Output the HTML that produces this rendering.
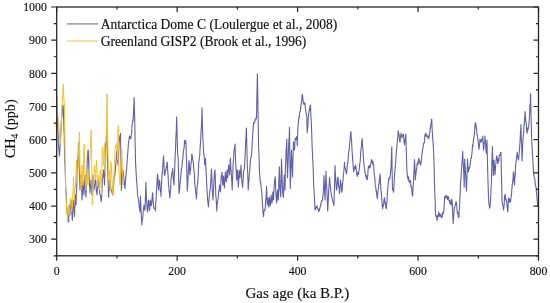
<!DOCTYPE html>
<html><head><meta charset="utf-8"><style>html,body{margin:0;padding:0;background:#fff;overflow:hidden}svg{display:block}</style></head>
<body><svg width="550" height="303" viewBox="0 0 550 303">
<rect width="550" height="303" fill="#fff"/>
<g fill="none" stroke-linejoin="round">
<polyline points="57.3,108.0 57.8,130.0 58.1,134.2 58.4,143.7 58.7,148.0 59.2,153.3 59.6,156.0 60.0,146.8 60.5,140.0 60.8,133.3 61.2,126.4 61.5,120.0 61.8,116.1 62.2,112.1 62.5,106.0 62.9,105.0 63.3,108.0 63.8,125.0 64.2,135.1 64.5,150.0 64.8,161.7 65.2,169.7 65.5,180.0 65.8,189.6 66.2,194.2 66.5,205.0 66.8,208.1 67.2,212.8 67.5,215.0 67.9,216.0 68.2,221.9 68.6,222.0 68.9,215.5 69.3,205.0 69.7,207.7 70.0,215.0 70.3,207.6 70.7,205.2 71.0,200.0 71.3,207.3 71.7,209.7 72.0,214.0 72.3,220.5 72.7,209.9 73.0,200.0 73.3,200.9 73.6,205.2 73.9,209.5 74.2,213.1 74.5,216.4 74.9,204.4 75.3,195.0 75.7,198.7 76.0,205.0 76.3,195.3 76.7,188.1 77.0,180.0 77.3,171.5 77.6,162.8 78.0,159.5 78.3,150.7 78.6,143.0 78.9,154.7 79.2,165.0 79.6,175.9 80.0,190.0 80.3,187.5 80.7,181.8 81.0,175.0 81.3,181.4 81.7,190.8 82.0,200.0 82.3,194.4 82.7,187.7 83.0,180.0 83.3,187.2 83.7,189.6 84.0,195.0 84.3,190.0 84.7,182.5 85.0,175.0 85.3,181.4 85.7,190.1 86.0,197.0 86.3,189.7 86.7,180.2 87.0,169.3 87.3,160.0 87.6,157.1 87.9,151.0 88.2,150.0 88.6,161.2 89.0,175.0 89.3,182.5 89.7,186.6 90.0,193.0 90.3,187.0 90.7,184.6 91.0,180.0 91.3,186.0 91.7,190.9 92.0,195.0 92.3,187.7 92.7,181.4 93.0,175.0 93.3,180.0 93.7,186.4 94.0,190.0 94.3,188.1 94.6,185.5 94.9,183.9 95.2,179.6 95.5,180.0 95.8,180.7 96.1,187.0 96.4,191.4 96.7,192.5 97.0,195.0 97.3,191.5 97.6,187.4 98.0,186.0 98.3,185.4 98.6,180.0 98.9,185.1 99.3,187.7 99.7,193.1 100.0,195.0 100.3,195.0 100.7,197.8 101.1,201.4 101.4,200.5 101.8,194.1 102.1,186.6 102.5,180.0 102.8,175.5 103.2,173.6 103.5,170.0 103.8,177.3 104.2,177.5 104.5,185.0 104.8,174.8 105.2,163.3 105.5,150.0 105.8,146.6 106.2,140.5 106.5,135.5 106.8,128.6 107.2,144.4 107.5,160.0 107.9,172.7 108.2,184.5 108.6,197.3 108.9,190.8 109.3,190.5 109.7,184.7 110.0,180.0 110.3,181.8 110.7,186.7 111.0,190.0 111.3,190.9 111.7,191.3 112.0,192.2 112.4,194.2 112.7,195.0 113.0,191.9 113.3,188.1 113.7,183.5 114.0,180.0 114.3,176.0 114.7,175.3 115.0,175.0 115.4,168.4 115.7,165.4 116.1,161.8 116.4,156.5 116.8,150.0 117.1,155.2 117.4,159.1 117.7,160.0 118.0,165.0 118.3,160.0 118.7,152.5 119.0,145.0 119.3,140.6 119.6,137.9 119.9,135.5 120.2,136.8 120.5,133.2 120.8,151.0 121.1,169.4 121.4,190.5 121.7,186.0 122.1,179.5 122.4,173.0 122.7,170.0 123.0,170.8 123.3,175.1 123.7,175.8 124.0,180.0 124.3,181.7 124.7,186.8 125.0,188.6 125.3,183.8 125.7,178.6 126.0,175.0 126.4,170.9 126.8,167.0 127.1,160.4 127.4,157.9 127.7,153.9 128.0,150.0 128.3,145.1 128.7,141.4 129.0,140.0 129.5,136.0 129.8,138.6 130.2,137.4 130.6,136.5 130.9,138.6 131.2,135.5 131.6,132.9 132.0,125.3 132.3,124.0 132.8,119.8 133.2,120.5 133.5,111.1 133.8,106.3 134.1,97.5 134.6,115.0 134.9,128.3 135.2,146.0 135.5,160.0 135.8,167.6 136.2,173.6 136.5,180.0 136.9,183.6 137.3,190.0 137.6,195.4 138.0,197.5 138.3,199.1 138.7,200.6 139.0,205.0 139.3,208.1 139.7,209.1 140.0,212.0 140.5,196.0 141.0,210.0 141.4,217.9 141.8,225.0 142.2,220.8 142.6,219.0 143.0,215.0 143.3,209.5 143.7,207.3 144.0,205.0 144.3,209.0 144.7,210.2 145.0,210.0 145.3,199.8 145.6,193.3 145.9,182.3 146.5,200.0 146.8,203.1 147.2,210.2 147.5,212.0 147.8,209.2 148.2,203.6 148.5,200.0 148.8,202.3 149.2,204.5 149.5,210.5 149.8,208.9 150.2,201.2 150.5,200.0 150.8,203.3 151.2,205.6 151.5,205.0 151.9,201.3 152.3,195.2 152.7,192.7 153.1,200.7 153.5,205.0 153.8,208.4 154.2,208.0 154.5,208.0 154.8,208.4 155.2,209.2 155.5,211.0 155.8,202.5 156.2,197.9 156.5,190.0 156.9,184.3 157.2,177.8 157.6,174.0 157.9,177.4 158.2,185.5 158.5,190.0 158.8,185.6 159.2,183.3 159.5,180.0 159.8,182.4 160.1,188.4 160.4,191.8 160.7,190.7 161.0,196.4 161.3,187.8 161.7,181.3 162.0,175.0 162.3,173.6 162.6,168.8 163.0,162.7 163.3,158.3 163.6,155.9 163.9,163.1 164.2,170.3 164.5,175.0 164.8,175.5 165.2,170.9 165.5,170.0 165.8,170.6 166.1,168.4 166.4,166.1 166.7,167.3 167.0,162.3 167.3,162.3 167.7,171.0 168.1,175.4 168.5,185.0 168.8,185.9 169.1,192.3 169.4,191.4 169.7,196.7 170.0,198.0 170.3,192.5 170.7,187.7 171.0,180.0 171.3,177.1 171.7,174.6 172.0,172.1 172.4,172.7 172.7,168.6 173.0,173.2 173.3,179.1 173.7,182.8 174.0,185.0 174.3,176.2 174.6,171.3 174.9,162.0 175.2,154.7 175.5,150.0 175.9,136.8 176.3,129.7 176.7,116.8 177.1,134.8 177.5,150.0 177.8,155.9 178.2,158.6 178.6,175.3 179.0,193.6 179.3,191.1 179.7,188.8 180.0,183.7 180.3,181.6 180.7,176.7 181.0,175.0 181.3,169.9 181.6,167.8 181.9,168.0 182.2,163.3 182.5,160.0 182.8,159.2 183.2,153.9 183.5,150.0 183.8,149.6 184.2,146.9 184.5,142.3 184.8,140.0 185.1,143.4 185.4,140.7 185.7,140.9 186.0,143.0 186.3,156.9 186.7,164.7 187.0,177.7 187.3,191.0 187.6,187.3 188.0,178.4 188.3,170.8 188.7,164.9 189.0,160.5 189.3,164.0 189.7,171.4 190.0,175.0 190.3,169.5 190.6,170.1 190.9,163.9 191.2,163.4 191.5,159.5 191.8,154.0 192.1,155.2 192.5,157.2 192.8,160.5 193.2,160.8 193.5,165.0 193.8,169.8 194.1,170.7 194.4,174.6 194.7,183.4 195.0,185.0 195.3,187.5 195.7,192.5 196.1,195.2 196.4,199.0 196.8,192.9 197.1,186.5 197.4,185.6 197.8,180.7 198.2,175.5 198.5,168.0 198.8,162.5 199.1,159.4 199.4,157.8 199.7,156.0 200.0,150.0 200.3,145.2 200.6,140.9 200.9,135.8 201.2,128.8 201.5,125.0 202.0,107.7 202.3,121.6 202.7,135.0 203.0,140.0 203.3,145.7 203.6,153.0 203.9,153.9 204.3,157.9 204.7,164.4 205.0,165.0 205.5,158.6 205.8,165.5 206.2,173.6 206.5,180.0 206.9,188.2 207.3,195.0 207.7,201.2 208.0,202.5 208.4,207.0 208.8,202.0 209.1,198.1 209.5,195.0 209.8,190.8 210.2,190.1 210.5,185.0 210.8,181.6 211.2,173.3 211.5,169.0 211.9,178.7 212.3,190.0 212.7,195.2 213.0,200.0 213.3,193.7 213.7,187.1 214.0,180.0 214.3,175.4 214.7,170.9 215.0,170.0 215.4,181.2 215.8,195.0 216.1,198.3 216.5,206.1 216.8,211.3 217.1,205.4 217.5,201.6 217.8,200.0 218.2,197.9 218.5,194.5 218.8,190.3 219.2,189.6 219.5,185.0 219.9,188.5 220.3,192.0 220.7,187.8 221.0,180.0 221.3,175.6 221.7,174.7 222.0,172.0 222.4,180.0 222.8,185.0 223.2,178.4 223.6,176.0 224.0,184.2 224.4,188.0 224.7,181.0 225.0,178.7 225.3,172.0 225.8,179.4 226.2,182.0 226.6,177.6 227.0,170.0 227.3,173.1 227.7,178.0 228.0,171.7 228.3,169.4 228.6,165.0 228.9,170.4 229.2,170.6 229.5,175.0 229.8,171.3 230.1,161.9 230.4,158.0 230.8,167.1 231.2,172.0 231.5,175.7 231.9,183.1 232.2,190.0 232.6,179.5 233.0,165.0 233.3,161.5 233.7,157.0 234.0,150.0 234.3,149.7 234.7,147.2 235.0,144.0 235.4,155.4 235.8,165.0 236.2,170.9 236.6,180.0 236.9,176.3 237.2,171.6 237.5,170.0 237.9,179.6 238.3,187.0 238.8,179.3 239.2,170.0 239.6,172.8 240.0,178.0 240.3,171.5 240.7,171.7 241.0,165.0 241.4,174.0 241.8,180.0 242.2,184.0 242.6,187.5 242.9,182.5 243.2,178.9 243.5,172.0 243.8,170.6 244.2,169.2 244.5,168.6 244.8,161.6 245.1,155.0 245.4,150.0 245.7,140.3 246.1,136.1 246.4,128.0 246.7,139.9 247.0,153.0 247.3,165.0 247.8,175.3 248.2,190.0 248.6,184.3 249.0,180.0 249.4,173.2 249.8,170.0 250.2,163.1 250.6,160.0 251.0,156.8 251.4,156.0 251.8,151.8 252.1,143.9 252.5,138.1 252.8,133.4 253.2,127.0 253.5,124.5 253.8,122.2 254.1,123.6 254.4,122.3 254.7,121.9 255.0,120.0 255.3,119.3 255.6,120.1 255.9,120.0 256.2,117.1 256.5,118.0 256.9,95.9 257.4,73.8 257.7,91.8 258.0,110.0 258.3,127.1 258.6,147.0 259.1,159.1 259.5,172.0 259.8,175.3 260.1,180.0 260.4,183.1 260.8,182.9 261.1,187.7 261.4,190.0 261.8,192.7 262.1,197.9 262.5,205.0 262.8,208.9 263.2,214.6 263.5,216.6 263.9,211.6 264.3,210.0 264.6,210.3 265.0,209.9 265.3,207.0 265.6,200.9 266.0,197.7 266.3,193.3 266.6,186.4 267.2,205.0 267.6,200.9 268.0,198.0 268.4,203.5 268.7,207.0 269.1,203.2 269.5,197.0 269.9,202.0 270.3,206.0 270.8,202.3 271.2,195.0 271.6,201.0 272.0,203.0 272.4,199.8 272.8,192.0 273.1,196.4 273.5,200.0 273.9,190.9 274.3,185.0 274.6,181.0 275.0,178.1 275.3,176.8 275.6,186.2 276.0,195.0 276.4,200.3 276.8,203.0 277.1,194.3 277.5,190.0 277.9,195.9 278.3,200.0 278.7,190.0 279.0,177.1 279.4,166.8 279.7,178.5 280.0,190.0 280.4,191.8 280.8,197.0 281.1,179.1 281.5,159.0 281.9,169.7 282.3,185.0 282.6,191.6 283.0,195.0 283.3,197.7 283.6,190.8 284.0,181.4 284.3,175.0 284.6,184.6 285.0,190.0 285.5,165.0 285.8,160.8 286.1,150.2 286.5,146.9 286.8,139.0 287.1,160.1 287.5,177.7 287.8,169.3 288.2,160.2 288.5,150.0 288.8,142.2 289.2,137.0 289.5,127.3 289.9,160.3 290.3,188.6 290.7,175.1 291.0,164.4 291.4,150.0 291.8,158.7 292.1,166.3 292.5,177.0 292.8,164.4 293.2,151.7 293.5,141.8 293.8,146.6 294.2,149.6 294.5,150.0 295.0,141.0 295.3,138.3 295.7,139.8 296.0,138.5 296.4,137.1 296.8,136.6 297.3,145.7 297.7,132.0 298.0,126.1 298.3,123.0 298.6,120.0 298.9,117.1 299.2,117.9 299.6,112.5 299.9,111.8 300.2,111.4 300.5,110.0 300.8,105.0 301.1,105.4 301.4,102.7 301.7,101.3 302.0,95.5 302.3,94.4 302.7,96.5 303.1,101.0 303.5,104.0 303.8,102.8 304.1,104.3 304.4,102.5 304.7,104.6 305.0,103.6 305.3,107.3 305.6,109.6 305.9,112.7 306.2,112.8 306.5,114.7 306.8,117.0 307.2,132.7 307.5,130.1 307.9,125.2 308.2,119.8 308.5,115.0 308.8,112.8 309.2,110.7 309.5,108.2 309.8,110.1 310.2,105.0 310.5,105.3 310.9,115.7 311.4,123.6 311.7,132.6 312.0,143.5 312.3,150.0 312.8,160.8 313.2,169.0 313.6,181.9 314.0,190.0 314.3,194.8 314.7,203.3 315.0,210.0 315.3,209.8 315.6,207.9 315.9,208.2 316.2,206.9 316.5,207.0 316.8,207.7 317.1,205.6 317.4,208.4 317.7,209.0 318.0,208.9 318.3,209.9 318.6,211.0 318.9,211.6 319.3,210.2 319.6,208.4 320.0,208.3 320.3,206.1 320.7,204.4 321.0,205.0 321.3,200.9 321.6,200.7 321.9,200.7 322.3,200.5 322.6,198.6 322.9,195.5 323.2,193.8 323.6,187.1 324.0,175.6 324.3,183.5 324.7,193.5 325.0,200.0 325.3,189.9 325.7,181.9 326.0,171.0 326.3,181.4 326.7,186.0 327.0,193.4 327.4,203.6 327.7,211.0 328.0,205.6 328.3,199.1 328.6,191.8 328.9,188.1 329.2,182.7 329.5,177.5 329.8,179.9 330.2,185.1 330.5,186.7 330.8,190.3 331.2,194.1 331.5,195.0 331.8,197.6 332.1,197.6 332.4,200.2 332.8,201.0 333.1,202.4 333.4,203.6 333.7,203.8 334.0,205.6 334.3,192.9 334.7,179.5 335.0,165.5 335.3,172.6 335.6,176.7 335.9,181.9 336.2,186.4 336.5,190.0 336.8,189.0 337.1,185.3 337.4,181.4 337.7,178.4 338.0,177.0 338.3,181.4 338.6,185.6 338.9,187.3 339.2,188.7 339.5,193.8 339.8,190.9 340.2,184.5 340.5,180.0 340.8,182.9 341.1,183.9 341.5,189.3 341.8,192.3 342.1,190.5 342.4,185.8 342.7,182.4 343.0,180.9 343.3,174.6 343.6,174.0 344.1,168.2 344.5,162.3 344.8,166.8 345.2,167.7 345.5,169.0 345.9,171.0 346.4,174.0 346.7,172.4 347.0,169.4 347.3,164.8 347.6,162.3 347.9,163.1 348.2,158.6 348.5,154.0 348.9,149.7 349.2,150.1 349.5,145.0 349.9,141.7 350.2,137.5 350.5,134.9 350.9,131.4 351.2,137.5 351.5,139.5 351.8,146.0 352.1,151.1 352.4,155.7 352.7,160.6 353.0,162.2 353.3,168.2 353.6,172.0 353.9,169.5 354.2,170.0 354.6,166.9 354.9,168.8 355.2,168.0 355.5,165.0 355.8,166.1 356.1,167.6 356.4,173.3 356.7,174.0 357.0,175.0 357.4,176.4 357.8,172.0 358.2,174.0 358.5,174.5 358.9,171.6 359.2,168.6 359.5,168.0 359.8,164.0 360.1,161.9 360.4,158.3 360.7,151.6 361.0,149.5 361.4,146.5 361.8,140.6 362.2,138.6 362.6,146.4 362.9,149.3 363.3,155.0 363.7,161.7 364.1,165.5 364.5,169.0 364.8,171.9 365.2,172.5 365.5,176.0 365.8,176.7 366.1,175.4 366.4,175.9 366.7,179.4 367.0,178.2 367.3,179.5 367.7,176.3 368.1,169.2 368.5,166.0 368.8,167.5 369.1,167.9 369.4,166.2 369.7,165.6 370.0,168.0 370.3,166.2 370.6,165.5 370.9,162.2 371.2,161.4 371.5,159.5 371.8,160.5 372.1,161.7 372.4,163.9 372.7,161.3 373.0,161.2 373.3,165.3 373.6,165.0 373.9,170.2 374.2,174.6 374.6,176.5 374.9,178.7 375.2,184.9 375.5,186.8 375.8,186.9 376.1,191.7 376.4,190.7 376.7,194.2 377.0,196.6 377.3,198.6 377.7,194.5 378.1,189.9 378.5,188.0 378.8,183.9 379.1,184.0 379.4,179.4 379.7,177.2 380.0,174.0 380.3,177.9 380.7,185.7 381.0,190.0 381.3,192.9 381.7,197.9 382.0,203.2 382.4,207.4 382.7,208.6 383.0,204.5 383.3,206.5 383.6,204.9 383.9,200.4 384.2,198.9 384.5,197.7 384.8,199.9 385.1,203.4 385.4,202.6 385.8,206.9 386.1,208.1 386.4,208.6 386.7,202.6 387.0,202.2 387.3,193.5 387.6,189.9 387.9,188.3 388.2,183.2 388.5,179.8 388.8,180.2 389.1,177.7 389.4,178.2 389.7,178.9 390.0,176.0 390.3,175.7 390.7,169.0 391.0,169.0 391.4,155.7 391.8,146.8 392.1,170.1 392.5,190.0 392.9,188.5 393.2,190.4 393.6,192.3 394.0,184.8 394.3,179.1 394.6,173.2 395.0,170.0 395.4,166.0 395.7,161.9 396.0,157.0 396.4,151.4 396.7,149.6 397.0,145.2 397.3,140.4 397.6,138.1 397.9,136.3 398.2,130.5 398.5,133.2 398.8,133.1 399.1,134.2 399.4,140.5 399.7,140.8 400.0,142.3 400.3,138.4 400.7,136.6 401.0,133.0 401.3,135.0 401.7,136.4 402.0,138.0 402.3,135.2 402.6,136.1 403.0,135.8 403.3,134.1 403.6,135.0 404.1,141.9 404.5,145.0 404.8,141.9 405.1,140.3 405.5,137.8 405.8,134.0 406.2,146.9 406.5,158.4 406.9,169.0 407.3,176.0 407.6,177.9 408.0,176.1 408.3,180.4 408.6,177.0 409.0,181.5 409.3,181.8 409.7,182.5 410.0,181.4 410.3,180.4 410.6,181.8 410.9,186.6 411.2,186.0 411.5,186.8 411.8,188.6 412.2,194.7 412.7,196.0 413.0,187.3 413.4,183.4 413.7,176.6 414.0,170.5 414.5,159.5 414.9,167.9 415.3,180.0 415.7,175.5 416.1,173.0 416.5,168.0 416.8,168.8 417.1,163.5 417.4,164.9 417.8,161.7 418.1,164.2 418.4,159.6 418.7,158.2 419.0,159.5 419.3,160.0 419.6,162.9 419.9,161.9 420.2,162.1 420.5,165.0 420.8,164.3 421.1,162.1 421.4,160.1 421.8,155.2 422.1,153.6 422.4,150.4 422.7,149.5 423.0,148.0 423.3,145.0 423.6,143.3 423.9,143.7 424.3,142.7 424.6,139.1 424.9,134.8 425.2,135.8 425.5,133.2 425.8,133.3 426.1,136.4 426.4,135.4 426.7,136.3 427.0,135.0 427.3,136.5 427.7,136.1 428.0,138.3 428.3,138.5 428.7,136.2 429.0,137.7 429.3,134.0 429.6,133.2 429.9,132.0 430.2,127.9 430.5,128.0 430.8,125.1 431.1,124.1 431.5,119.3 431.8,119.5 432.1,128.8 432.5,135.0 432.9,141.2 433.2,145.0 433.6,151.4 434.1,166.2 434.5,183.0 434.8,192.6 435.2,202.8 435.5,214.0 435.8,216.2 436.1,215.8 436.4,216.9 436.7,215.9 437.0,220.7 437.3,219.5 437.7,216.8 438.1,215.0 438.5,214.0 438.8,211.8 439.1,216.4 439.4,213.9 439.8,216.1 440.1,216.1 440.4,216.3 440.7,214.0 441.0,216.1 441.4,217.1 441.7,217.6 442.0,216.0 442.3,216.7 442.6,212.6 443.0,213.7 443.3,213.2 443.6,212.0 443.9,209.4 444.3,203.2 444.6,196.7 444.9,197.5 445.2,197.6 445.6,195.5 445.9,198.2 446.2,196.6 446.5,195.7 446.8,195.7 447.1,196.5 447.4,199.5 447.8,197.8 448.1,196.5 448.4,198.6 448.7,197.5 449.0,200.8 449.4,200.8 449.7,203.2 450.0,200.2 450.3,202.4 450.6,203.3 451.0,205.0 451.3,204.5 451.7,199.4 452.0,200.0 452.4,205.8 452.8,215.8 453.2,223.4 453.6,216.5 454.0,212.0 454.3,208.1 454.7,206.9 455.0,206.2 455.3,205.3 455.7,203.2 456.0,201.5 456.3,202.2 456.7,205.0 457.0,210.0 457.3,213.0 457.6,213.3 457.9,212.2 458.3,216.9 458.6,214.0 458.9,217.7 459.2,210.7 459.6,206.7 459.9,198.6 460.2,193.3 460.5,184.8 460.8,179.5 461.1,176.6 461.5,170.3 461.8,165.0 462.2,160.0 462.7,151.3 463.0,160.2 463.4,164.7 463.7,172.0 464.2,187.0 464.6,159.0 465.1,166.4 465.5,172.0 465.8,178.6 466.2,186.9 466.5,191.0 466.8,181.8 467.2,170.8 467.5,159.0 467.8,164.9 468.2,170.2 468.5,172.0 468.8,169.2 469.1,167.4 469.4,168.6 469.8,167.2 470.1,164.4 470.4,162.8 470.7,160.5 471.0,157.9 471.4,158.0 471.7,155.3 472.0,152.1 472.3,149.4 472.6,144.9 472.9,146.7 473.2,142.5 473.6,138.9 473.9,137.2 474.2,136.0 474.5,133.6 474.9,126.8 475.2,124.1 475.5,122.6 475.8,123.4 476.2,128.1 476.5,128.0 476.8,131.6 477.1,135.1 477.4,135.4 477.7,137.9 478.0,139.9 478.3,143.3 478.7,146.4 479.0,149.4 479.3,146.1 479.7,144.1 480.0,139.0 480.3,141.9 480.6,139.7 480.9,141.4 481.2,140.4 481.5,142.0 481.8,139.5 482.1,139.0 482.5,137.9 482.8,136.0 483.1,143.2 483.5,150.0 483.8,149.6 484.1,142.7 484.4,142.3 484.7,141.3 485.0,136.0 485.4,142.9 485.8,147.8 486.2,153.2 486.6,145.9 487.0,140.0 487.3,153.5 487.6,168.0 488.1,184.5 488.5,196.7 488.8,202.5 489.2,205.2 489.5,208.2 489.8,207.5 490.2,204.9 490.5,200.0 490.8,195.1 491.2,186.1 491.5,180.0 491.9,163.1 492.4,146.5 492.7,157.7 493.0,165.3 493.3,175.6 493.6,169.0 494.0,160.0 494.3,164.9 494.7,169.2 495.0,175.0 495.3,171.2 495.6,165.9 495.9,163.5 496.2,160.2 496.5,157.0 496.8,155.8 497.1,157.7 497.4,159.3 497.7,163.4 498.0,162.8 498.3,161.7 498.6,158.6 498.9,160.6 499.2,155.3 499.5,155.0 499.8,154.5 500.1,155.1 500.4,154.3 500.7,152.5 501.0,152.3 501.3,169.8 501.7,184.4 502.0,200.5 502.4,204.4 502.9,206.2 503.2,206.8 503.5,209.9 503.8,208.2 504.1,204.8 504.5,197.2 504.8,194.8 505.2,194.3 505.6,199.9 506.0,199.0 506.3,200.2 506.7,201.8 507.0,205.6 507.4,209.3 507.7,212.0 508.1,207.3 508.5,198.0 508.8,198.3 509.1,200.7 509.4,202.1 509.7,199.1 510.0,202.0 510.3,201.1 510.6,201.6 510.9,197.9 511.2,196.4 511.5,194.8 511.9,188.3 512.4,183.3 512.7,181.7 513.1,178.0 513.4,171.8 513.8,174.2 514.1,180.9 514.5,185.0 514.8,178.9 515.2,174.5 515.5,168.0 515.8,163.0 516.2,160.5 516.5,157.5 516.9,155.3 517.2,152.3 517.5,155.7 517.9,157.9 518.2,159.5 518.5,160.0 518.8,157.6 519.2,151.3 519.5,150.0 519.8,144.4 520.1,140.7 520.4,133.7 520.7,129.7 521.0,124.6 521.3,138.7 521.7,146.9 522.0,160.9 522.3,155.7 522.7,145.0 523.0,140.0 523.3,135.3 523.6,133.7 524.0,126.0 524.3,123.4 524.6,118.7 524.9,115.0 525.2,111.6 525.5,117.7 525.8,122.3 526.2,122.9 526.5,128.0 526.8,132.2 527.1,133.2 527.4,130.5 527.8,127.9 528.1,129.7 528.4,126.6 528.7,126.5 529.2,120.7 529.6,115.0 529.9,105.4 530.3,103.1 530.6,93.5 530.9,109.1 531.3,125.3 531.6,138.0 531.9,146.0 532.2,148.2 532.5,155.2 532.9,160.4 533.2,167.6 533.5,172.0 534.0,176.5 534.4,177.6 534.7,178.5 535.0,180.9 535.3,185.3 535.7,186.1 536.0,186.9 536.3,191.0 536.6,192.5 536.9,197.4 537.3,200.6 537.6,205.5 537.9,206.2" stroke="#6060ac" stroke-width="1.1"/>
<polyline points="" stroke="#5c5ca8" stroke-width="0.9"/>
<polyline points="57.2,96.0 57.5,110.0 57.8,117.3 58.2,122.2 58.5,125.0 58.9,126.6 59.2,130.5 59.6,138.1 59.9,141.4 60.3,144.0 60.6,138.5 60.9,130.4 61.2,125.0 61.6,117.2 61.9,108.9 62.3,100.0 62.7,95.1 63.0,87.6 63.4,84.0 63.9,100.0 64.2,102.7 64.5,106.0 65.0,150.0 65.5,185.0 65.8,191.1 66.2,199.4 66.5,205.0 66.8,211.2 67.1,214.7 67.4,216.5 67.7,220.0 68.1,212.2 68.5,205.0 68.9,208.8 69.3,215.0 69.6,208.4 69.9,204.1 70.2,202.1 70.5,198.0 70.8,201.8 71.2,206.7 71.5,212.0 71.8,211.6 72.2,207.5 72.5,205.0 72.8,196.0 73.2,185.0 73.5,177.0 73.9,186.1 74.3,200.0 74.6,195.4 74.9,190.7 75.2,188.8 75.5,185.0 75.8,179.2 76.2,169.2 76.5,160.0 76.8,166.7 77.2,178.6 77.5,185.0 77.8,174.8 78.2,162.8 78.5,150.0 78.8,146.0 79.1,139.2 79.4,131.8 79.8,154.8 80.2,175.0 80.6,181.8 81.0,190.0 81.3,184.1 81.7,175.6 82.0,165.0 82.3,170.0 82.7,179.6 83.0,185.0 83.4,172.4 83.7,157.5 84.1,144.0 84.4,154.5 84.7,164.6 85.0,175.0 85.3,182.1 85.7,185.0 86.0,190.0 86.3,185.0 86.7,175.9 87.0,170.0 87.3,176.9 87.7,182.0 88.0,185.0 88.3,180.8 88.6,177.3 88.9,175.1 89.2,170.1 89.5,165.0 89.8,158.3 90.2,150.3 90.5,145.0 90.8,136.6 91.2,130.0 91.6,153.5 92.0,175.0 92.3,204.5 92.6,198.0 92.9,196.8 93.2,188.7 93.5,185.0 93.8,180.4 94.2,170.7 94.5,165.0 94.8,172.3 95.2,176.0 95.5,180.0 95.8,173.4 96.2,166.8 96.5,160.0 96.8,169.1 97.2,177.1 97.5,185.0 97.8,180.7 98.2,176.9 98.5,175.0 98.8,180.1 99.2,187.2 99.5,190.0 99.8,183.9 100.2,174.5 100.5,170.0 100.8,179.9 101.2,187.8 101.5,195.0 101.9,173.0 102.3,147.0 102.6,150.0 102.9,157.2 103.2,158.3 103.5,165.0 103.8,158.4 104.2,149.2 104.5,143.0 104.8,152.3 105.2,166.2 105.5,175.0 105.9,155.5 106.3,140.0 106.7,117.2 107.1,94.1 107.4,118.8 107.7,140.0 108.1,158.7 108.5,180.0 108.8,175.2 109.2,175.2 109.5,170.0 109.8,179.6 110.2,190.0 110.6,177.0 111.0,161.8 111.3,165.5 111.7,173.2 112.0,180.0 112.3,183.4 112.7,190.9 113.0,195.0 113.3,186.2 113.7,183.9 114.0,175.0 114.3,164.3 114.7,159.5 115.0,150.0 115.3,146.3 115.6,146.2 115.9,147.7 116.2,143.2 116.5,143.6 116.8,147.5 117.2,155.5 117.5,160.0 117.8,142.2 118.2,125.5 118.6,145.5 119.0,170.0 119.3,177.5 119.7,178.3 120.0,185.0 120.3,176.0 120.7,170.9 121.0,165.0 121.4,157.6 121.8,149.0 122.2,163.2 122.5,175.0 122.8,176.4 123.2,180.9 123.5,185.0" stroke="#f4c02a" stroke-width="1"/>
<polyline points="" stroke="#f4c02a" stroke-width="0.9"/>
</g>
<path d="M53.70 255.80H56.70M536.00 255.80H538.50M51.20 239.21H56.70M533.50 239.21H538.50M53.70 222.63H56.70M536.00 222.63H538.50M51.20 206.04H56.70M533.50 206.04H538.50M53.70 189.45H56.70M536.00 189.45H538.50M51.20 172.87H56.70M533.50 172.87H538.50M53.70 156.28H56.70M536.00 156.28H538.50M51.20 139.69H56.70M533.50 139.69H538.50M53.70 123.11H56.70M536.00 123.11H538.50M51.20 106.52H56.70M533.50 106.52H538.50M53.70 89.93H56.70M536.00 89.93H538.50M51.20 73.35H56.70M533.50 73.35H538.50M53.70 56.76H56.70M536.00 56.76H538.50M51.20 40.17H56.70M533.50 40.17H538.50M53.70 23.59H56.70M536.00 23.59H538.50M51.20 7.00H56.70M533.50 7.00H538.50M56.70 255.80V260.80M56.70 7.00V12.00M116.93 255.80V258.40M116.93 7.00V9.60M177.15 255.80V260.80M177.15 7.00V12.00M237.38 255.80V258.40M237.38 7.00V9.60M297.60 255.80V260.80M297.60 7.00V12.00M357.82 255.80V258.40M357.82 7.00V9.60M418.05 255.80V260.80M418.05 7.00V12.00M478.27 255.80V258.40M478.27 7.00V9.60M538.50 255.80V260.80M538.50 7.00V12.00" stroke="#262626" stroke-width="1.2" fill="none"/>
<rect x="56.7" y="7.0" width="481.80" height="248.80" fill="none" stroke="#262626" stroke-width="1.3"/>
<g font-family="'Liberation Serif', serif" fill="#111" stroke="#111" stroke-width="0.15">
<g font-size="11.8"><text transform="translate(46.8,243.41) scale(1,1.12)" text-anchor="end">300</text><text transform="translate(46.8,210.24) scale(1,1.12)" text-anchor="end">400</text><text transform="translate(46.8,177.07) scale(1,1.12)" text-anchor="end">500</text><text transform="translate(46.8,143.89) scale(1,1.12)" text-anchor="end">600</text><text transform="translate(46.8,110.72) scale(1,1.12)" text-anchor="end">700</text><text transform="translate(46.8,77.55) scale(1,1.12)" text-anchor="end">800</text><text transform="translate(46.8,44.37) scale(1,1.12)" text-anchor="end">900</text><text transform="translate(46.8,11.20) scale(1,1.12)" text-anchor="end">1000</text><text transform="translate(56.70,274.6) scale(1,1.12)" text-anchor="middle">0</text><text transform="translate(177.15,274.6) scale(1,1.12)" text-anchor="middle">200</text><text transform="translate(297.60,274.6) scale(1,1.12)" text-anchor="middle">400</text><text transform="translate(418.05,274.6) scale(1,1.12)" text-anchor="middle">600</text><text transform="translate(538.50,274.6) scale(1,1.12)" text-anchor="middle">800</text></g>
<text x="245.5" y="298.2" font-size="15">Gas age (ka B.P.)</text>
<text transform="translate(15.3,158.1) rotate(-90)" font-size="14.2">CH<tspan font-size="9.5" dy="3">4</tspan><tspan dy="-3"> (ppb)</tspan></text>
<g font-size="13.55">
<text transform="translate(100.8,28.6) scale(1,1.05)">Antarctica Dome C (Loulergue et al., 2008)</text>
<text transform="translate(100.8,45.7) scale(1,1.05)">Greenland GISP2 (Brook et al., 1996)</text>
</g>
</g>
<line x1="67" y1="23.9" x2="98" y2="23.9" stroke="#7f7fbf" stroke-width="1.3"/>
<line x1="67" y1="41" x2="98" y2="41" stroke="#f8d060" stroke-width="1.3"/>
</svg></body></html>
